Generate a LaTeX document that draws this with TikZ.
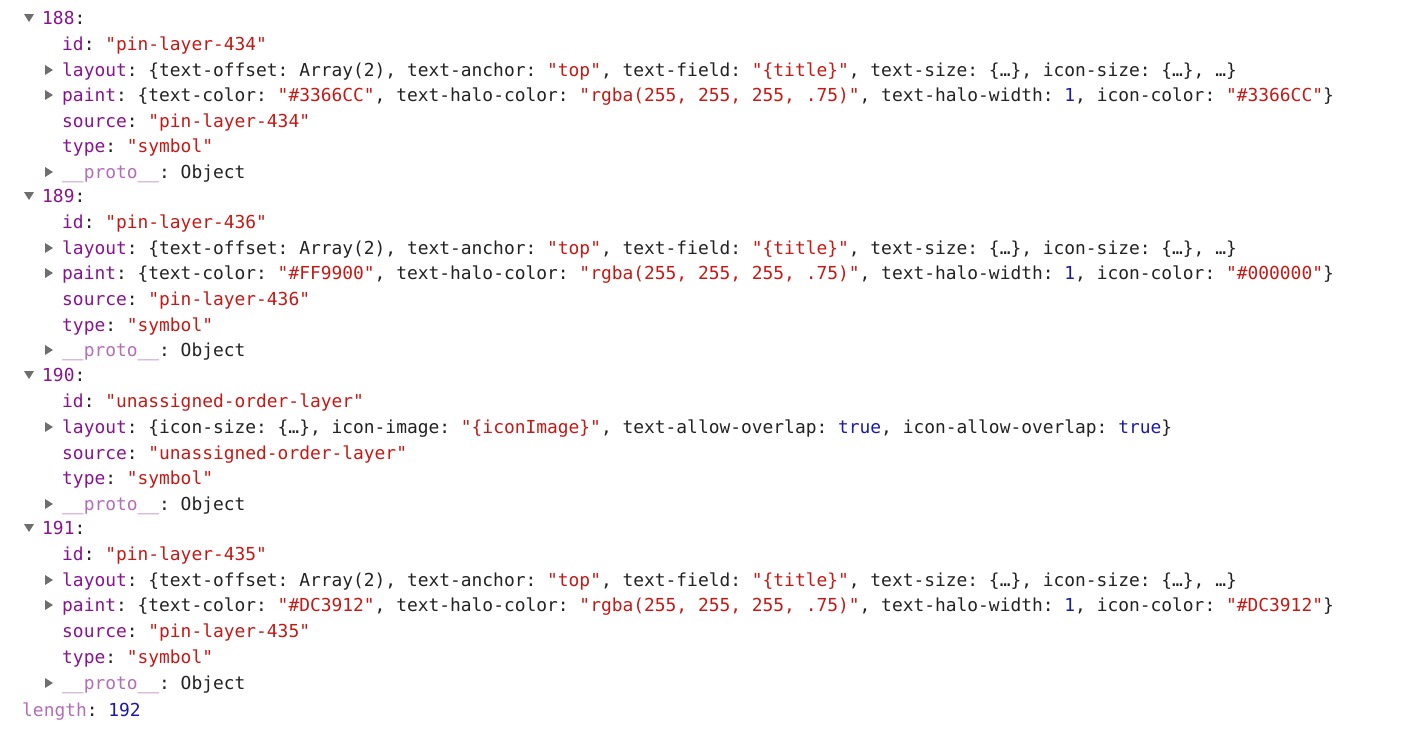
\documentclass[tikz,border=0pt]{standalone}
\usepackage{fontspec}
\setmonofont{DejaVu Sans Mono}
\usepackage{xcolor}
\definecolor{kp}{HTML}{881391}
\definecolor{sr}{HTML}{C41A16}
\definecolor{nb}{HTML}{1A1AA6}
\definecolor{lp}{HTML}{B26EB8}
\definecolor{tx}{HTML}{222222}
\definecolor{tg}{HTML}{6E6E6E}
\newcommand{\K}[1]{\textcolor{kp}{#1}}
\newcommand{\Sx}[1]{\textcolor{sr}{#1}}
\newcommand{\Nx}[1]{\textcolor{nb}{#1}}
\newcommand{\Lx}[1]{\textcolor{lp}{#1}}
\newcount\rowi
\newcommand{\row}[3]{\global\advance\rowi by 1
  \node[txt] (r\the\rowi) at (#1pt,{-(#2+6)*1pt}) {#3};}
\newcommand{\tr}[2]{\fill[tg] (#1pt-4pt,-#2pt+5pt) -- (#1pt+4pt,-#2pt) -- (#1pt-4pt,-#2pt-5pt) -- cycle;}
\newcommand{\td}[2]{\fill[tg] (#1pt-5pt,-#2pt+4pt) -- (#1pt+5pt,-#2pt+4pt) -- (#1pt,-#2pt-4pt) -- cycle;}
\newcommand{\lay}{\K{layout}: \{text-offset: Array(2), text-anchor: \Sx{"top"}, text-field: \Sx{"\{title\}"}, text-size: \{…\}, icon-size: \{…\}, …\}}
\newcommand{\pnt}[2]{\K{paint}: \{text-color: \Sx{"#1"}, text-halo-color: \Sx{"rgba(255, 255, 255, .75)"}, text-halo-width: \Nx{1}, icon-color: \Sx{"#2"}\}}
\begin{document}
\begin{tikzpicture}[x=1pt,y=1pt,txt/.style={anchor=base west,inner sep=0pt,font=\ttfamily\fontsize{17.9}{20}\selectfont,text=tx}]
\useasboundingbox (0,0) rectangle (1402,-728);
% 188
\td{29}{18}\row{42}{18}{\K{188}:}
\row{62}{44}{\K{id}: \Sx{"pin-layer-434"}}
\tr{49}{70}\row{62}{70}{\lay}
\tr{49}{95}\row{62}{95}{\pnt{\#3366CC}{\#3366CC}}
\row{62}{121}{\K{source}: \Sx{"pin-layer-434"}}
\row{62}{146}{\K{type}: \Sx{"symbol"}}
\tr{49}{172}\row{62}{172}{\Lx{\_\_proto\_\_}: Object}
% 189
\td{29}{196}\row{42}{196}{\K{189}:}
\row{62}{222}{\K{id}: \Sx{"pin-layer-436"}}
\tr{49}{248}\row{62}{248}{\lay}
\tr{49}{273}\row{62}{273}{\pnt{\#FF9900}{\#000000}}
\row{62}{299}{\K{source}: \Sx{"pin-layer-436"}}
\row{62}{325}{\K{type}: \Sx{"symbol"}}
\tr{49}{350}\row{62}{350}{\Lx{\_\_proto\_\_}: Object}
% 190
\td{29}{375}\row{42}{375}{\K{190}:}
\row{62}{401}{\K{id}: \Sx{"unassigned-order-layer"}}
\tr{49}{427}\row{62}{427}{\K{layout}: \{icon-size: \{…\}, icon-image: \Sx{"\{iconImage\}"}, text-allow-overlap: \Nx{true}, icon-allow-overlap: \Nx{true}\}}
\row{62}{453}{\K{source}: \Sx{"unassigned-order-layer"}}
\row{62}{478}{\K{type}: \Sx{"symbol"}}
\tr{49}{504}\row{62}{504}{\Lx{\_\_proto\_\_}: Object}
% 191
\td{29}{528}\row{42}{528}{\K{191}:}
\row{62}{554}{\K{id}: \Sx{"pin-layer-435"}}
\tr{49}{580}\row{62}{580}{\lay}
\tr{49}{605}\row{62}{605}{\pnt{\#DC3912}{\#DC3912}}
\row{62}{631}{\K{source}: \Sx{"pin-layer-435"}}
\row{62}{657}{\K{type}: \Sx{"symbol"}}
\tr{49}{683}\row{62}{683}{\Lx{\_\_proto\_\_}: Object}
\row{22}{710}{\Lx{length}: \Nx{192}}
\end{tikzpicture}
\end{document}
